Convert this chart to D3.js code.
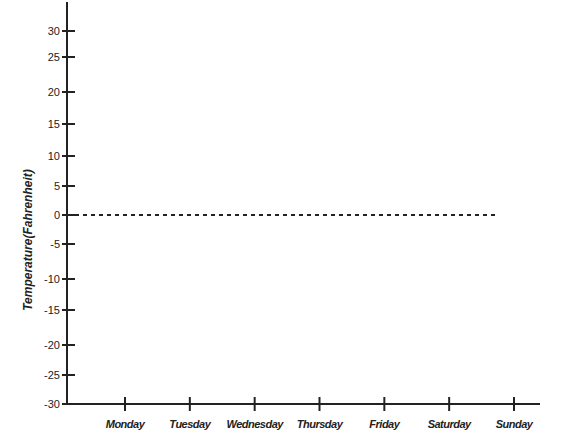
<!DOCTYPE html>
<html><head><meta charset="utf-8">
<script src="https://cdn.jsdelivr.net/npm/d3@7"></script>
<style>body{margin:0;background:#fff}</style></head>
<body><svg id="c"></svg>
<script>
const days = ['Monday','Tuesday','Wednesday','Thursday','Friday','Saturday','Sunday'];
const yTicks = [30,25,20,15,10,5,0,-5,-10,-15,-20,-25,-30];
const baseline = [0];

const svg = d3.select('#c').attr('width',561).attr('height',436);
// the drawn axis is slightly uneven, so follow the printed tick positions
const y = d3.scaleLinear()
  .domain(yTicks)
  .range([31,57,92,124,156,186,215,244,279,310,345,375,404]);
const x = d3.scalePoint().domain(days).range([125,514]);
const axX = 67;

svg.append('line').attr('x1',axX).attr('x2',axX).attr('y1',2).attr('y2',404)
  .attr('stroke','#222').attr('stroke-width',2);
svg.append('line').attr('x1',axX).attr('x2',540).attr('y1',404).attr('y2',404)
  .attr('stroke','#222').attr('stroke-width',2);

const yg = svg.append('g').selectAll('g').data(yTicks).join('g')
  .attr('transform',d=>`translate(${axX},${y(d)})`);
yg.append('line').attr('x1',-5).attr('x2',8).attr('stroke','#222').attr('stroke-width',2);
yg.append('text').attr('x',-7).attr('dy','0.35em').attr('text-anchor','end')
  .style('font','11px Arial, "Liberation Sans"').attr('fill','#222').text(d=>d);

const xg = svg.append('g').selectAll('g').data(days).join('g')
  .attr('transform',d=>`translate(${x(d)},404)`);
xg.append('line').attr('y1',-7).attr('y2',7).attr('stroke','#222').attr('stroke-width',2);
xg.append('text').attr('y',24).attr('text-anchor','middle')
  .style('font','italic bold 11px Arial, "Liberation Sans"').style('letter-spacing','-0.5px')
  .attr('fill','#222').text(d=>d);

svg.selectAll('.base').data(baseline).join('line').attr('class','base')
  .attr('x1',axX+8).attr('x2',495).attr('y1',d=>y(d)).attr('y2',d=>y(d))
  .attr('stroke','#222').attr('stroke-width',2).attr('stroke-dasharray','4,4');

svg.append('text').attr('transform','translate(32,240) rotate(-90)')
  .attr('text-anchor','middle').style('font','italic bold 12px Arial, "Liberation Sans"')
  .attr('fill','#222').text('Temperature(Fahrenheit)');
</script></body></html>
